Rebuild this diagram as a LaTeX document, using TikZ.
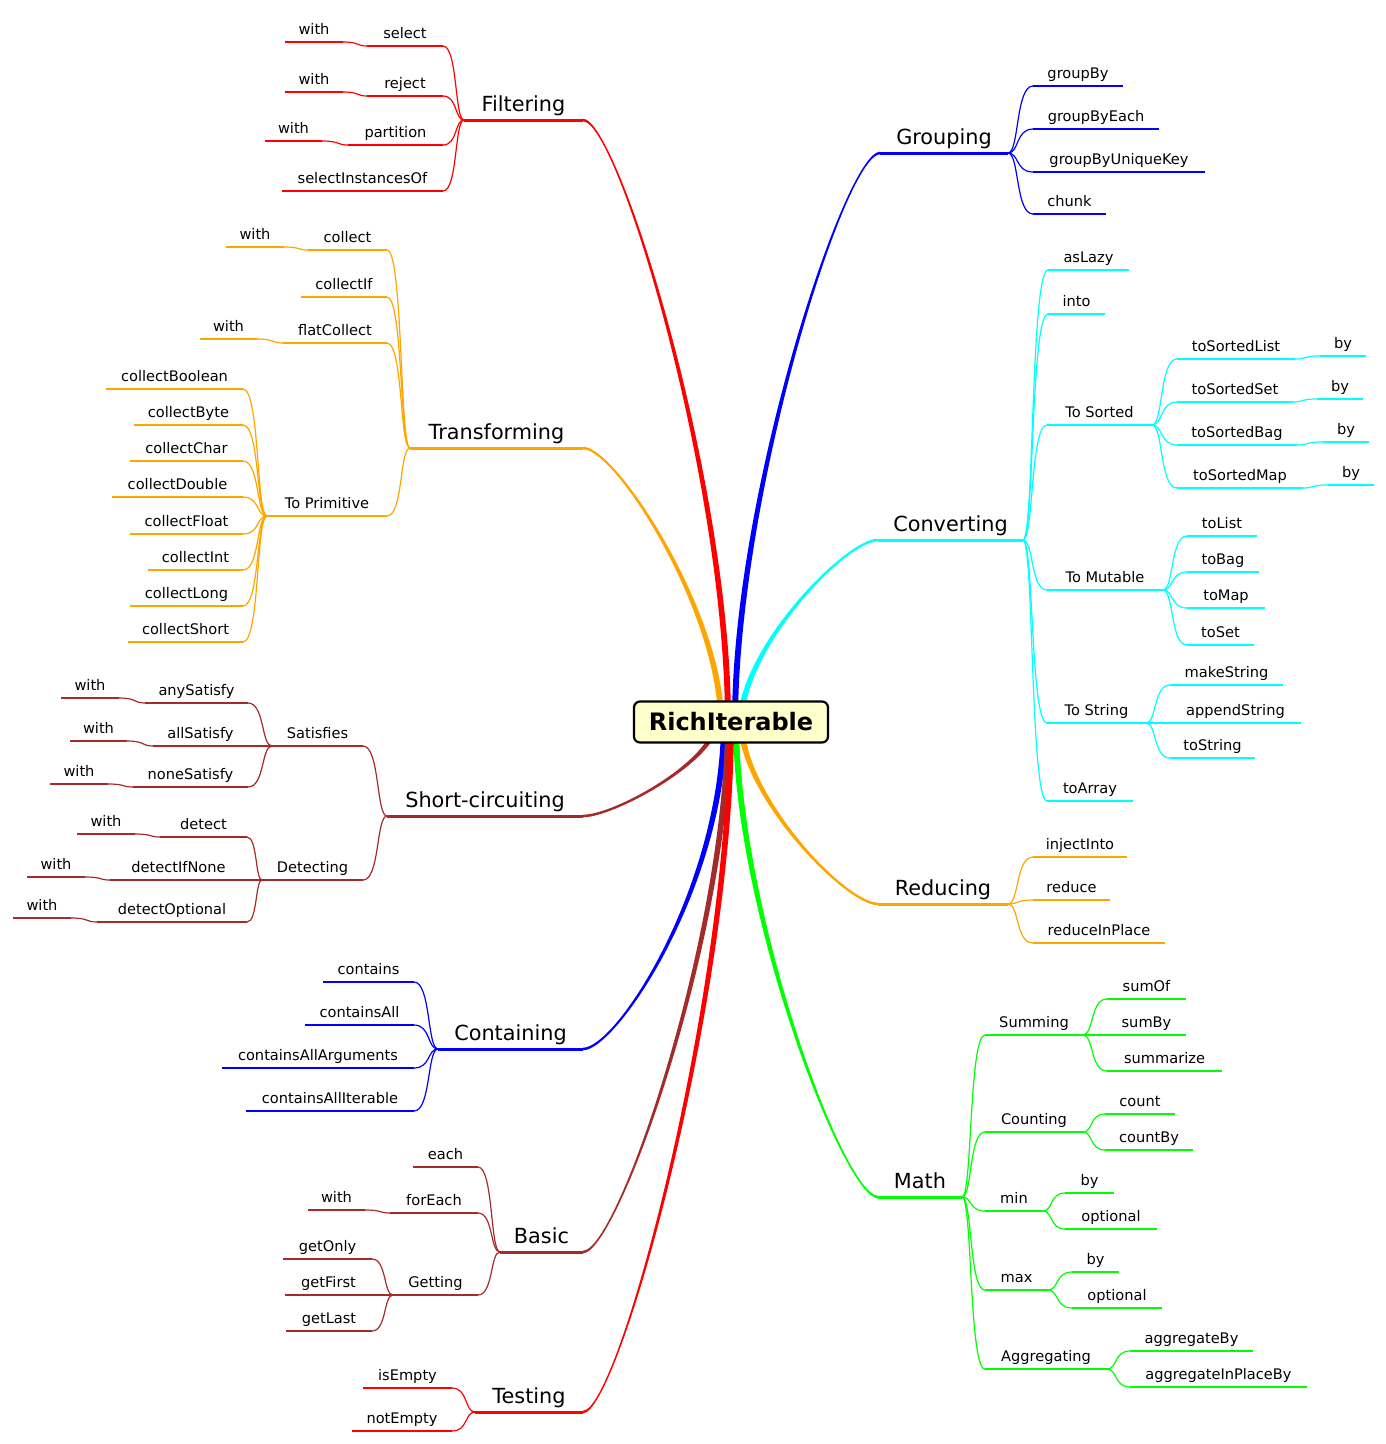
\documentclass[tikz,border=0pt]{standalone}
\usepackage{fontspec}
\setmainfont{DejaVu Sans}
\usetikzlibrary{calc}
\definecolor{cRed}{HTML}{FF0000}
\definecolor{cBlue}{HTML}{0000FF}
\definecolor{cOrange}{HTML}{FFA500}
\definecolor{cCyan}{HTML}{00FFFF}
\definecolor{cBrown}{HTML}{A52A2A}
\definecolor{cGreen}{HTML}{00FF00}
\definecolor{rootfill}{HTML}{FFFFCC}
\tikzset{
  lbl/.style={font=\fontsize{14.6}{17}\selectfont, anchor=base, inner sep=0pt, text=black},
  blbl/.style={font=\fontsize{20.8}{24}\selectfont, anchor=base, inner sep=0pt, text=black},
  ul/.style={line width=1.2pt},
  bul/.style={line width=3pt},
  cedge/.style={line width=1.2pt},
  rootbox/.style={draw=black, line width=2.2pt, fill=rootfill, rounded corners=6pt,
    minimum width=194pt, minimum height=41pt, inner sep=0pt,
    font=\bfseries\fontsize{24}{28}\selectfont}
}
% name, colour, x-left, x-right, y, text
\newcommand{\mmnode}[6]{%
  \coordinate (#1-l) at (#3,#5);
  \coordinate (#1-r) at (#4,#5);
  \draw[#2,ul] (#1-l) -- (#1-r);
  \node[lbl] (#1) at ({(#3+#4)/2},{#5-7.5}) {#6};
}
\newcommand{\mmbig}[6]{%
  \coordinate (#1-l) at (#3,#5);
  \coordinate (#1-r) at (#4,#5);
  \draw[#2,bul] (#1-l) -- (#1-r);
  \node[blbl] (#1) at ({(#3+#4)/2},{#5-9}) {#6};
}
% colour, from, to
\newcommand{\mmedge}[3]{%
  \draw[#1,cedge] (#2) .. controls ($(#2)!0.45!(#2 -| #3)$) and ($(#3)!0.7!(#3 -| #2)$) .. (#3);
}
% colour, start, end, k  (tapered root branch)
\newcommand{\mmroot}[4]{%
  \fill[#1] let \p1=(#2), \p2=(#3), \n1={sign(\y2-\y1)}, \n2={sign(\x2-\x1)} in
   ({\x1-3*(\n1)},\y1) .. controls ({\x1-3*(\n1)},{\y1+#4*(\y2-\y1)}) and ({\x2-0.24*(\x2-\x1)},{\y2+1.3*(\n2)}) .. (\x2,{\y2+1.3*(\n2)})
   -- (\x2,{\y2-1.3*(\n2)}) .. controls ({\x2-0.24*(\x2-\x1)},{\y2-1.3*(\n2)}) and ({\x1+3*(\n1)},{\y1+#4*(\y2-\y1)}) .. ({\x1+3*(\n1)},\y1) -- cycle;
}
\begin{document}
\begin{tikzpicture}[x=1pt,y=-1pt]
\useasboundingbox (0,0) rectangle (1386,1444);

% ---------------- Filtering
\mmbig{filt}{cRed}{464}{583}{120}{Filtering}
\mmnode{sel}{cRed}{367}{443}{46}{select}
\mmnode{selw}{cRed}{285}{343}{42}{with}
\mmnode{rej}{cRed}{367}{443}{96}{reject}
\mmnode{rejw}{cRed}{285}{343}{92}{with}
\mmnode{part}{cRed}{348}{443}{145}{partition}
\mmnode{partw}{cRed}{265}{322}{141}{with}
\mmnode{selinst}{cRed}{282}{443}{191}{selectInstancesOf}
\mmedge{cRed}{filt-l}{sel-r}
\mmedge{cRed}{filt-l}{rej-r}
\mmedge{cRed}{filt-l}{part-r}
\mmedge{cRed}{filt-l}{selinst-r}
\mmedge{cRed}{sel-l}{selw-r}
\mmedge{cRed}{rej-l}{rejw-r}
\mmedge{cRed}{part-l}{partw-r}

% ---------------- Transforming
\mmbig{trans}{cOrange}{410}{583}{448}{Transforming}
\mmnode{coll}{cOrange}{308}{387}{250}{collect}
\mmnode{collw}{cOrange}{226}{284}{247}{with}
\mmnode{collif}{cOrange}{301}{387}{297}{collectIf}
\mmnode{flat}{cOrange}{283}{387}{343}{flatCollect}
\mmnode{flatw}{cOrange}{200}{257}{339}{with}
\mmnode{prim}{cOrange}{267}{387}{516}{To Primitive}
\mmnode{cbool}{cOrange}{106}{243}{389}{collectBoolean}
\mmnode{cbyte}{cOrange}{134}{243}{425}{collectByte}
\mmnode{cchar}{cOrange}{130}{243}{461}{collectChar}
\mmnode{cdouble}{cOrange}{112}{243}{497}{collectDouble}
\mmnode{cfloat}{cOrange}{130}{243}{534}{collectFloat}
\mmnode{cint}{cOrange}{148}{243}{570}{collectInt}
\mmnode{clong}{cOrange}{130}{243}{606}{collectLong}
\mmnode{cshort}{cOrange}{128}{243}{642}{collectShort}
\mmedge{cOrange}{trans-l}{coll-r}
\mmedge{cOrange}{trans-l}{collif-r}
\mmedge{cOrange}{trans-l}{flat-r}
\mmedge{cOrange}{trans-l}{prim-r}
\mmedge{cOrange}{coll-l}{collw-r}
\mmedge{cOrange}{flat-l}{flatw-r}
\foreach \c in {cbool,cbyte,cchar,cdouble,cfloat,cint,clong,cshort}{
  \mmedge{cOrange}{prim-l}{\c-r}
}

% ---------------- Short-circuiting
\mmbig{short}{cBrown}{387}{583}{816}{Short-circuiting}
\mmnode{sat}{cBrown}{272}{363}{746}{Satisfies}
\mmnode{any}{cBrown}{145}{248}{703}{anySatisfy}
\mmnode{anyw}{cBrown}{61}{119}{698}{with}
\mmnode{all}{cBrown}{153}{248}{746}{allSatisfy}
\mmnode{allw}{cBrown}{70}{127}{741}{with}
\mmnode{none}{cBrown}{133}{248}{787}{noneSatisfy}
\mmnode{nonew}{cBrown}{50}{108}{784}{with}
\mmnode{det}{cBrown}{262}{363}{880}{Detecting}
\mmnode{detect}{cBrown}{160}{247}{837}{detect}
\mmnode{detectw}{cBrown}{77}{135}{834}{with}
\mmnode{dnone}{cBrown}{110}{247}{880}{detectIfNone}
\mmnode{dnonew}{cBrown}{27}{85}{877}{with}
\mmnode{dopt}{cBrown}{97}{247}{922}{detectOptional}
\mmnode{doptw}{cBrown}{13}{71}{918}{with}
\mmedge{cBrown}{short-l}{sat-r}
\mmedge{cBrown}{short-l}{det-r}
\mmedge{cBrown}{sat-l}{any-r}
\mmedge{cBrown}{sat-l}{all-r}
\mmedge{cBrown}{sat-l}{none-r}
\mmedge{cBrown}{det-l}{detect-r}
\mmedge{cBrown}{det-l}{dnone-r}
\mmedge{cBrown}{det-l}{dopt-r}
\mmedge{cBrown}{any-l}{anyw-r}
\mmedge{cBrown}{all-l}{allw-r}
\mmedge{cBrown}{none-l}{nonew-r}
\mmedge{cBrown}{detect-l}{detectw-r}
\mmedge{cBrown}{dnone-l}{dnonew-r}
\mmedge{cBrown}{dopt-l}{doptw-r}

% ---------------- Containing
\mmbig{cont}{cBlue}{438}{583}{1049}{Containing}
\mmnode{contains}{cBlue}{323}{414}{982}{contains}
\mmnode{contall}{cBlue}{305}{414}{1025}{containsAll}
\mmnode{contargs}{cBlue}{222}{414}{1068}{containsAllArguments}
\mmnode{contiter}{cBlue}{246}{414}{1111}{containsAllIterable}
\foreach \c in {contains,contall,contargs,contiter}{
  \mmedge{cBlue}{cont-l}{\c-r}
}

% ---------------- Basic
\mmbig{basic}{cBrown}{500}{583}{1252}{Basic}
\mmnode{each}{cBrown}{413}{478}{1167}{each}
\mmnode{foreach}{cBrown}{390}{478}{1213}{forEach}
\mmnode{foreachw}{cBrown}{308}{365}{1210}{with}
\mmnode{getting}{cBrown}{393}{478}{1295}{Getting}
\mmnode{getonly}{cBrown}{283}{372}{1259}{getOnly}
\mmnode{getfirst}{cBrown}{285}{372}{1295}{getFirst}
\mmnode{getlast}{cBrown}{286}{372}{1331}{getLast}
\mmedge{cBrown}{basic-l}{each-r}
\mmedge{cBrown}{basic-l}{foreach-r}
\mmedge{cBrown}{basic-l}{getting-r}
\mmedge{cBrown}{foreach-l}{foreachw-r}
\mmedge{cBrown}{getting-l}{getonly-r}
\mmedge{cBrown}{getting-l}{getfirst-r}
\mmedge{cBrown}{getting-l}{getlast-r}

% ---------------- Testing
\mmbig{test}{cRed}{475}{583}{1412}{Testing}
\mmnode{isempty}{cRed}{363}{452}{1388}{isEmpty}
\mmnode{notempty}{cRed}{352}{452}{1431}{notEmpty}
\mmedge{cRed}{test-l}{isempty-r}
\mmedge{cRed}{test-l}{notempty-r}

% ---------------- Grouping
\mmbig{group}{cBlue}{880}{1008}{153}{Grouping}
\mmnode{gb}{cBlue}{1033}{1123}{86}{groupBy}
\mmnode{gbe}{cBlue}{1033}{1159}{129}{groupByEach}
\mmnode{gbu}{cBlue}{1033}{1205}{172}{groupByUniqueKey}
\mmnode{chunk}{cBlue}{1033}{1106}{214}{chunk}
\foreach \c in {gb,gbe,gbu,chunk}{
  \mmedge{cBlue}{group-r}{\c-l}
}

% ---------------- Converting
\mmbig{conv}{cCyan}{878}{1023}{540}{Converting}
\mmnode{aslazy}{cCyan}{1048}{1129}{270}{asLazy}
\mmnode{into}{cCyan}{1048}{1105}{314}{into}
\mmnode{tosorted}{cCyan}{1047}{1152}{425}{To Sorted}
\mmnode{tsl}{cCyan}{1177}{1295}{359}{toSortedList}
\mmnode{tslby}{cCyan}{1320}{1366}{356}{by}
\mmnode{tss}{cCyan}{1177}{1293}{402}{toSortedSet}
\mmnode{tssby}{cCyan}{1317}{1363}{399}{by}
\mmnode{tsb}{cCyan}{1177}{1297}{445}{toSortedBag}
\mmnode{tsbby}{cCyan}{1323}{1369}{442}{by}
\mmnode{tsm}{cCyan}{1177}{1303}{488}{toSortedMap}
\mmnode{tsmby}{cCyan}{1328}{1374}{485}{by}
\mmnode{tomut}{cCyan}{1047}{1163}{590}{To Mutable}
\mmnode{tolist}{cCyan}{1187}{1257}{536}{toList}
\mmnode{tobag}{cCyan}{1187}{1259}{572}{toBag}
\mmnode{tomap}{cCyan}{1187}{1265}{608}{toMap}
\mmnode{toset}{cCyan}{1187}{1254}{645}{toSet}
\mmnode{tostr}{cCyan}{1047}{1146}{723}{To String}
\mmnode{mkstr}{cCyan}{1170}{1283}{685}{makeString}
\mmnode{apstr}{cCyan}{1170}{1301}{723}{appendString}
\mmnode{tostring}{cCyan}{1170}{1255}{758}{toString}
\mmnode{toarray}{cCyan}{1047}{1133}{801}{toArray}
\foreach \c in {aslazy,into,tosorted,tomut,tostr,toarray}{
  \mmedge{cCyan}{conv-r}{\c-l}
}
\foreach \c in {tsl,tss,tsb,tsm}{
  \mmedge{cCyan}{tosorted-r}{\c-l}
  \mmedge{cCyan}{\c-r}{\c by-l}
}
\foreach \c in {tolist,tobag,tomap,toset}{
  \mmedge{cCyan}{tomut-r}{\c-l}
}
\foreach \c in {mkstr,apstr,tostring}{
  \mmedge{cCyan}{tostr-r}{\c-l}
}

% ---------------- Reducing
\mmbig{reduc}{cOrange}{878}{1008}{904}{Reducing}
\mmnode{inject}{cOrange}{1033}{1127}{857}{injectInto}
\mmnode{reduce}{cOrange}{1033}{1110}{900}{reduce}
\mmnode{rip}{cOrange}{1033}{1165}{943}{reduceInPlace}
\foreach \c in {inject,reduce,rip}{
  \mmedge{cOrange}{reduc-r}{\c-l}
}

% ---------------- Math
\mmbig{math}{cGreen}{878}{962}{1197}{Math}
\mmnode{summing}{cGreen}{985}{1083}{1035}{Summing}
\mmnode{sumof}{cGreen}{1107}{1186}{999}{sumOf}
\mmnode{sumby}{cGreen}{1107}{1186}{1035}{sumBy}
\mmnode{summarize}{cGreen}{1107}{1222}{1071}{summarize}
\mmnode{counting}{cGreen}{985}{1083}{1132}{Counting}
\mmnode{count}{cGreen}{1105}{1175}{1114}{count}
\mmnode{countby}{cGreen}{1105}{1193}{1150}{countBy}
\mmnode{min}{cGreen}{985}{1043}{1211}{min}
\mmnode{minby}{cGreen}{1065}{1114}{1193}{by}
\mmnode{minopt}{cGreen}{1065}{1157}{1229}{optional}
\mmnode{max}{cGreen}{985}{1048}{1290}{max}
\mmnode{maxby}{cGreen}{1072}{1119}{1272}{by}
\mmnode{maxopt}{cGreen}{1072}{1162}{1308}{optional}
\mmnode{aggr}{cGreen}{985}{1107}{1369}{Aggregating}
\mmnode{aggby}{cGreen}{1130}{1253}{1351}{aggregateBy}
\mmnode{agginp}{cGreen}{1130}{1307}{1387}{aggregateInPlaceBy}
\foreach \c in {summing,counting,min,max,aggr}{
  \mmedge{cGreen}{math-r}{\c-l}
}
\foreach \c in {sumof,sumby,summarize}{
  \mmedge{cGreen}{summing-r}{\c-l}
}
\mmedge{cGreen}{counting-r}{count-l}
\mmedge{cGreen}{counting-r}{countby-l}
\mmedge{cGreen}{min-r}{minby-l}
\mmedge{cGreen}{min-r}{minopt-l}
\mmedge{cGreen}{max-r}{maxby-l}
\mmedge{cGreen}{max-r}{maxopt-l}
\mmedge{cGreen}{aggr-r}{aggby-l}
\mmedge{cGreen}{aggr-r}{agginp-l}

% ---------------- root branches
\coordinate (sFilt) at (728,722);
\coordinate (sGroup) at (735,722);
\coordinate (sTrans) at (721,722);
\coordinate (sConv) at (741,722);
\coordinate (sShort) at (716,722);
\coordinate (sCont) at (724,722);
\coordinate (sBasic) at (728,722);
\coordinate (sTest) at (731,722);
\coordinate (sReduc) at (741,722);
\coordinate (sMath) at (736,722);
\mmroot{cOrange}{sTrans}{trans-r}{0.4}
\mmroot{cCyan}{sConv}{conv-l}{0.4}
\mmroot{cRed}{sFilt}{filt-r}{0.4}
\mmroot{cBlue}{sGroup}{group-l}{0.4}
\mmroot{cOrange}{sReduc}{reduc-l}{0.4}
\mmroot{cBrown}{sShort}{short-r}{0.4}
\mmroot{cBlue}{sCont}{cont-r}{0.5}
\mmroot{cGreen}{sMath}{math-l}{0.4}
\mmroot{cBrown}{sBasic}{basic-r}{0.4}
\mmroot{cRed}{sTest}{test-r}{0.4}

\node[rootbox] (root) at (731,722) {RichIterable};
\end{tikzpicture}
\end{document}
